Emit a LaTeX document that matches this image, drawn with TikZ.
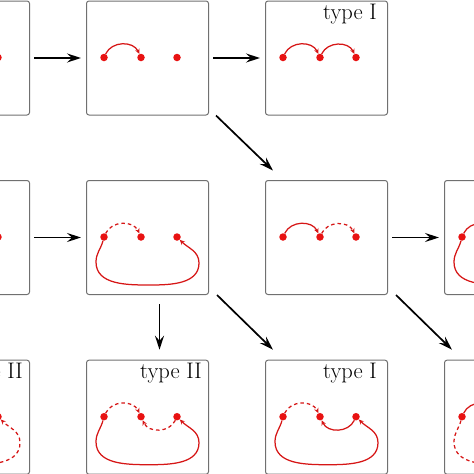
\documentclass[tikz,border=0pt]{standalone}
\usetikzlibrary{arrows.meta}
\definecolor{dotred}{RGB}{232,18,18}
\definecolor{arcred}{RGB}{214,22,22}
\definecolor{boxgray}{RGB}{112,112,112}
\newcommand\threedots[1]{%
  \node[rdot] (#1a) at (18,-57) {};
  \node[rdot] (#1b) at (55,-57) {};
  \node[rdot] (#1c) at (91,-57) {};}
\begin{document}
\begin{tikzpicture}[x=1pt,y=1pt,
  panel/.style={draw=boxgray,line width=1pt,rounded corners=2.5pt,minimum width=122pt,minimum height=114pt,inner sep=0pt,anchor=north west},
  rdot/.style={circle,fill=dotred,inner sep=0pt,minimum size=7.5pt},
  flowarrow/.style={line width=1.7pt,-{Stealth[length=14pt,width=9pt,inset=5pt]}},
  rarc/.style={draw=arcred,line width=1.25pt,-{Stealth[length=5pt,width=4.5pt]}},
  darc/.style={rarc,dash pattern=on 3.5pt off 3pt},
  lbl/.style={anchor=base,font=\fontsize{22.5}{26}\selectfont,inner sep=0pt},
  uparc/.style={out=65,in=115,looseness=1.1},
  valley/.style={out=-115,in=-65,looseness=1.1}
]
\path[use as bounding box] (0,0) rectangle (474,-474);
\clip (0,0) rectangle (474,-474);
\newcommand\loopto[2]{(#1) to[out=-105,in=90] (10,-82) to[out=-90,in=180] (64,-105) to[out=0,in=-90] (113,-83) to[out=90,in=-45] (#2)}
% ---------- row 1
\begin{scope}[shift={(-93,-0.5)}]
  \node[panel] (r1c0) at (0,0) {};
  \threedots{r1c0}
\end{scope}
\begin{scope}[shift={(86,-0.5)}]
  \node[panel] (r1c1) at (0,0) {};
  \threedots{r1c1}
  \draw[rarc] (r1c1a) to[uparc] (r1c1b);
\end{scope}
\begin{scope}[shift={(265,-0.5)}]
  \node[panel] (r1c2) at (0,0) {};
  \threedots{r1c2}
  \draw[rarc] (r1c2a) to[uparc] (r1c2b);
  \draw[rarc] (r1c2b) to[uparc] (r1c2c);
  \node[lbl] (t12) at (85,-19) {type I};
\end{scope}
% ---------- row 2
\begin{scope}[shift={(-93,-180)}]
  \node[panel] (r2c0) at (0,0) {};
  \threedots{r2c0}
\end{scope}
\begin{scope}[shift={(86,-180)}]
  \node[panel] (r2c1) at (0,0) {};
  \threedots{r2c1}
  \draw[darc] (r2c1a) to[uparc] (r2c1b);
  \draw[rarc] \loopto{r2c1a}{r2c1c};
\end{scope}
\begin{scope}[shift={(265,-180)}]
  \node[panel] (r2c2) at (0,0) {};
  \threedots{r2c2}
  \draw[rarc] (r2c2a) to[uparc] (r2c2b);
  \draw[darc] (r2c2b) to[uparc] (r2c2c);
\end{scope}
\begin{scope}[shift={(444,-180)}]
  \node[panel] (r2c3) at (0,0) {};
  \threedots{r2c3}
  \draw[rarc] (r2c3a) to[uparc] (r2c3b);
  \draw[rarc] \loopto{r2c3a}{r2c3c};
\end{scope}
% ---------- row 3
\begin{scope}[shift={(-93,-359.7)}]
  \node[panel] (r3c0) at (0,0) {};
  \threedots{r3c0}
  \draw[darc] \loopto{r3c0a}{r3c0c};
  \node[lbl] (t30) at (85,-18.5) {type II};
\end{scope}
\begin{scope}[shift={(86,-359.7)}]
  \node[panel] (r3c1) at (0,0) {};
  \threedots{r3c1}
  \draw[darc] (r3c1a) to[uparc] (r3c1b);
  \draw[darc] (r3c1c) to[valley] (r3c1b);
  \draw[rarc] \loopto{r3c1a}{r3c1c};
  \node[lbl] (t31) at (85,-18.5) {type II};
\end{scope}
\begin{scope}[shift={(265,-359.7)}]
  \node[panel] (r3c2) at (0,0) {};
  \threedots{r3c2}
  \draw[darc] (r3c2a) to[uparc] (r3c2b);
  \draw[rarc] (r3c2c) to[valley] (r3c2b);
  \draw[rarc] \loopto{r3c2a}{r3c2c};
  \node[lbl] (t32) at (85,-18.5) {type I};
\end{scope}
\begin{scope}[shift={(444,-359.7)}]
  \node[panel] (r3c3) at (0,0) {};
  \threedots{r3c3}
  \draw[rarc] (r3c3a) to[uparc] (r3c3b);
  \draw[darc] \loopto{r3c3a}{r3c3c};
\end{scope}
% ---------- transitions
\draw[flowarrow] ([xshift=4pt]r1c0.east) -- ([xshift=-5pt]r1c1.west);
\draw[flowarrow] ([xshift=4pt]r1c1.east) -- ([xshift=-5pt]r1c2.west);
\draw[flowarrow] ([xshift=7pt]r1c1.south east) -- ([shift={(8pt,9.5pt)}]r2c2.north west);
\draw[flowarrow] ([xshift=4pt]r2c0.east) -- ([xshift=-5pt]r2c1.west);
\draw[flowarrow] ([xshift=4pt]r2c2.east) -- ([xshift=-5pt]r2c3.west);
\draw[flowarrow] ([shift={(12pt,-9pt)}]r2c1.south) -- ([shift={(12pt,10pt)}]r3c1.north);
\draw[flowarrow] ([xshift=8pt]r2c1.south east) -- ([shift={(8pt,10pt)}]r3c2.north west);
\draw[flowarrow] ([xshift=8pt]r2c2.south east) -- ([shift={(8pt,10pt)}]r3c3.north west);
\end{tikzpicture}
\end{document}
